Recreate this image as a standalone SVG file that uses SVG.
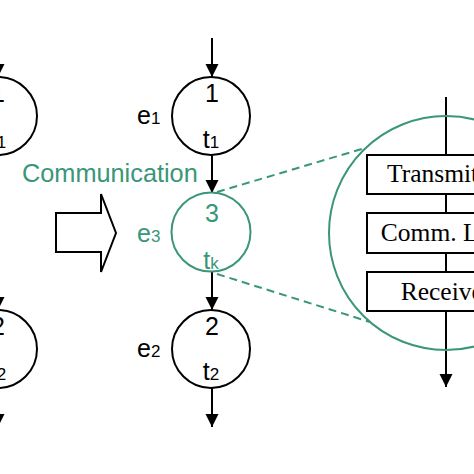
<svg xmlns="http://www.w3.org/2000/svg" width="474" height="474" viewBox="0 0 474 474">
<defs>
<marker id="ah" markerUnits="userSpaceOnUse" markerWidth="14" markerHeight="14" refX="13" refY="6.5" orient="auto">
<path d="M0,0 L13,6.5 L0,13 Z" fill="#000"/>
</marker>
<style>
.ln{stroke:#000;stroke-width:2;fill:none}
.nd{stroke:#000;stroke-width:2;fill:#fff}
.gn{stroke:#3a9679;stroke-width:2;fill:#fff}
.gd{stroke:#3a9679;stroke-width:2;fill:none;stroke-dasharray:8 5}
.t{font-family:"Liberation Sans",Arial,sans-serif;font-size:25px;fill:#000}
.g{fill:#3a9679}
.s{font-size:17px}
.sf{font-family:"Liberation Serif","Times New Roman",serif;font-size:25.5px;fill:#000}
</style>
</defs>
<rect width="474" height="474" fill="#fff"/>
<g id="connectors">
<line class="ln" x1="-2" y1="38" x2="-2" y2="77" marker-end="url(#ah)"/>
<line class="ln" x1="-2" y1="155" x2="-2" y2="310" marker-end="url(#ah)"/>
<line class="ln" x1="-2" y1="388" x2="-2" y2="427" marker-end="url(#ah)"/>
<line class="ln" x1="212" y1="38" x2="212" y2="77" marker-end="url(#ah)"/>
<line class="ln" x1="212" y1="155" x2="212" y2="193" marker-end="url(#ah)"/>
<line class="ln" x1="212" y1="272" x2="212" y2="310" marker-end="url(#ah)"/>
<line class="ln" x1="212" y1="388" x2="212" y2="427" marker-end="url(#ah)"/>
<line class="ln" x1="446" y1="97" x2="446" y2="155"/>
<line class="ln" x1="446" y1="194" x2="446" y2="213"/>
<line class="ln" x1="446" y1="253" x2="446" y2="272"/>
<line class="ln" x1="446" y1="311" x2="446" y2="387" marker-end="url(#ah)"/>
<line class="gd" x1="217" y1="192" x2="365" y2="148"/>
<line class="gd" x1="217" y1="274" x2="370" y2="322"/>
</g>
<g id="zoom-circle">
<circle cx="446" cy="233" r="117" fill="none" stroke="#3a9679" stroke-width="2"/>
</g>
<g id="left-node1">
<circle class="nd" cx="-2" cy="116" r="39"/>
<text class="t" x="-2" y="102" text-anchor="middle">1</text>
<text class="t" x="-2" y="148" text-anchor="middle">t<tspan class="s">1</tspan></text>
</g>
<g id="left-node2">
<circle class="nd" cx="-2" cy="349" r="39"/>
<text class="t" x="-2" y="335" text-anchor="middle">2</text>
<text class="t" x="-2" y="380" text-anchor="middle">t<tspan class="s">2</tspan></text>
</g>
<g id="node1">
<circle class="nd" cx="211" cy="116" r="39"/>
<text class="t" x="212" y="102" text-anchor="middle">1</text>
<text class="t" x="211" y="148" text-anchor="middle">t<tspan class="s">1</tspan></text>
<text class="t" x="137" y="124">e<tspan class="s">1</tspan></text>
</g>
<g id="node3">
<circle class="gn" cx="211" cy="232" r="39.5"/>
<text class="t g" x="212" y="222" text-anchor="middle">3</text>
<text class="t g" x="211" y="269" text-anchor="middle">t<tspan class="s">k</tspan></text>
<text class="t g" x="137" y="242">e<tspan class="s">3</tspan></text>
</g>
<g id="node2">
<circle class="nd" cx="211" cy="349" r="39"/>
<text class="t" x="212" y="335" text-anchor="middle">2</text>
<text class="t" x="211" y="380" text-anchor="middle">t<tspan class="s">2</tspan></text>
<text class="t" x="137" y="357">e<tspan class="s">2</tspan></text>
</g>
<g id="comm-label">
<text class="t g" x="22" y="182" style="font-size:25.3px">Communication</text>
</g>
<g id="block-arrow">
<polygon points="56,213 101,213 101,194 116,233 101,272 101,252 56,252" fill="#fff" stroke="#000" stroke-width="2"/>
</g>
<g id="transmitter">
<rect x="367" y="155" width="158" height="39" fill="#fff" stroke="#000" stroke-width="2"/>
<text class="sf" x="446" y="182" text-anchor="middle">Transmitter</text>
</g>
<g id="comm-link">
<rect x="367" y="213" width="158" height="40" fill="#fff" stroke="#000" stroke-width="2"/>
<text class="sf" x="446" y="241" text-anchor="middle">Comm. Link</text>
</g>
<g id="receiver">
<rect x="367" y="272" width="158" height="39" fill="#fff" stroke="#000" stroke-width="2"/>
<text class="sf" x="446" y="300" text-anchor="middle">Receiver</text>
</g>
</svg>
